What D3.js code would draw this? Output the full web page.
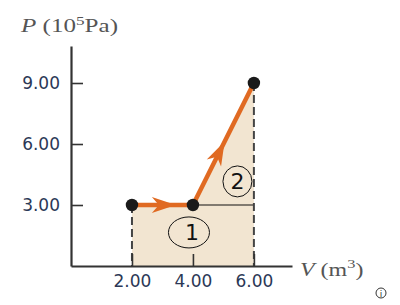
<!DOCTYPE html>
<html><head><meta charset="utf-8">
<script src="https://cdn.jsdelivr.net/npm/d3@7"></script>
<style>body{margin:0;background:#fff}svg{display:block}</style>
</head><body>
<svg id="c" width="400" height="305"></svg>
<script>
const xTicks = [2, 4, 6];
const xTickLabels = ["2.00", "4.00", "6.00"];
const yTicks = [3, 6, 9];
const yTickLabels = ["3.00", "6.00", "9.00"];
const pathV = [2, 4, 6];
const pathP = [3, 3, 9];
const arrowT = [0.72, 0.52];
const regionLabels = ["1", "2"];

const svg = d3.select("#c");
const x = d3.scaleLinear().domain([0, 7.25]).range([71, 292]);
const y = d3.scaleLinear().domain([0, 10.82]).range([266, 46]);
const pts = pathV.map((v, i) => [v, pathP[i]]);

// shaded region
const area = [[pathV[0], 0], ...pts, [pathV[2], 0]];
svg.append("path")
  .attr("d", d3.line().x(d => x(d[0])).y(d => y(d[1]))(area) + "Z")
  .attr("fill", "#f2e5d1");

// horizontal divider
svg.append("line")
  .attr("x1", x(pathV[1])).attr("x2", x(pathV[2]))
  .attr("y1", y(pathP[1])).attr("y2", y(pathP[1]))
  .attr("stroke", "#111").attr("stroke-width", 1.2);

// dashed verticals
[0, 2].forEach(i => {
  svg.append("line")
    .attr("x1", x(pathV[i])).attr("x2", x(pathV[i]))
    .attr("y1", y(pathP[i])).attr("y2", y(0))
    .attr("stroke", "#444").attr("stroke-width", 2)
    .attr("stroke-dasharray", "8,4");
});

// axes
const gx = svg.append("g").attr("transform", `translate(0,${y(0)})`)
  .call(d3.axisBottom(x).tickValues(xTicks).tickFormat((d, i) => xTickLabels[i])
    .tickSizeInner(-12).tickSizeOuter(0).tickPadding(9));
const gy = svg.append("g").attr("transform", `translate(${x(0)},0)`)
  .call(d3.axisLeft(y).tickValues(yTicks).tickFormat((d, i) => yTickLabels[i])
    .tickSizeInner(-12).tickSizeOuter(0).tickPadding(11));
[gx, gy].forEach(g => {
  g.select(".domain").attr("stroke", "#333").attr("stroke-width", 2.2);
  g.selectAll(".tick line").attr("stroke", "#333").attr("stroke-width", 1.6);
  g.selectAll(".tick text").attr("fill", "#2c3856")
    .style("font-family", "'DejaVu Sans', Verdana, sans-serif").style("font-size", "17px");
});

// orange process path
svg.append("path")
  .attr("d", d3.line().x(d => x(d[0])).y(d => y(d[1]))(pts))
  .attr("fill", "none").attr("stroke", "#e06a22").attr("stroke-width", 4.5)
  .attr("stroke-linejoin", "round");

// arrowheads
arrowT.forEach((t, i) => {
  const a = pts[i], b = pts[i + 1];
  const x0 = x(a[0]), y0 = y(a[1]), x1 = x(b[0]), y1 = y(b[1]);
  const tx = x0 + (x1 - x0) * t, ty = y0 + (y1 - y0) * t;
  const ang = Math.atan2(y1 - y0, x1 - x0) * 180 / Math.PI;
  svg.append("path")
    .attr("d", "M0,0 L-24,-8 L-17,0 L-24,8 Z")
    .attr("transform", `translate(${tx},${ty}) rotate(${ang})`)
    .attr("fill", "#e06a22");
});

// dots
svg.selectAll("circle.pt").data(pts).enter().append("circle")
  .attr("class", "pt")
  .attr("cx", d => x(d[0])).attr("cy", d => y(d[1])).attr("r", 6.2)
  .attr("fill", "#1a1a1a");

// region labels
const lab1 = [3.87, 1.65], lab2 = [5.46, 4.16];
svg.append("ellipse").attr("cx", x(lab1[0])).attr("cy", y(lab1[1]))
  .attr("rx", 20.5).attr("ry", 15.5).attr("fill", "none").attr("stroke", "#111").attr("stroke-width", 1);
svg.append("text").attr("x", x(lab1[0]) + 3).attr("y", y(lab1[1]) + 8)
  .attr("text-anchor", "middle").style("font-family", "'DejaVu Sans', sans-serif")
  .style("font-size", "22px").attr("fill", "#111").text(regionLabels[0]);
svg.append("ellipse").attr("cx", x(lab2[0])).attr("cy", y(lab2[1]))
  .attr("rx", 14.5).attr("ry", 15.5).attr("fill", "none").attr("stroke", "#111").attr("stroke-width", 1);
svg.append("text").attr("x", x(lab2[0])).attr("y", y(lab2[1]) + 8)
  .attr("text-anchor", "middle").style("font-family", "'DejaVu Sans', sans-serif")
  .style("font-size", "22px").attr("fill", "#111").text(regionLabels[1]);

// axis titles (horizontally stretched serif, as in the reference)
const tyT = svg.append("text").attr("transform", "translate(21,32) scale(1.32,1)")
  .style("font-family", "'Liberation Serif', 'Times New Roman', serif")
  .style("font-size", "19px").attr("fill", "#555");
tyT.append("tspan").style("font-style", "italic").text("P");
tyT.append("tspan").text(" (10");
tyT.append("tspan").attr("dy", -7).style("font-size", "13px").text("5");
tyT.append("tspan").attr("dy", 7).text("Pa)");

const txT = svg.append("text").attr("transform", "translate(300,276) scale(1.26,1)")
  .style("font-family", "'Liberation Serif', 'Times New Roman', serif")
  .style("font-size", "19px").attr("fill", "#555");
txT.append("tspan").style("font-style", "italic").text("V");
txT.append("tspan").text(" (m");
txT.append("tspan").attr("dy", -8).style("font-size", "13px").text("3");
txT.append("tspan").attr("dy", 8).text(")");

// info icon
svg.append("circle").attr("cx", 381).attr("cy", 293).attr("r", 5)
  .attr("fill", "none").attr("stroke", "#333").attr("stroke-width", 1);
svg.append("text").attr("x", 381).attr("y", 296.5).attr("text-anchor", "middle")
  .style("font-family", "'DejaVu Sans', sans-serif").style("font-size", "9px")
  .attr("fill", "#333").text("i");
</script>
</body></html>
